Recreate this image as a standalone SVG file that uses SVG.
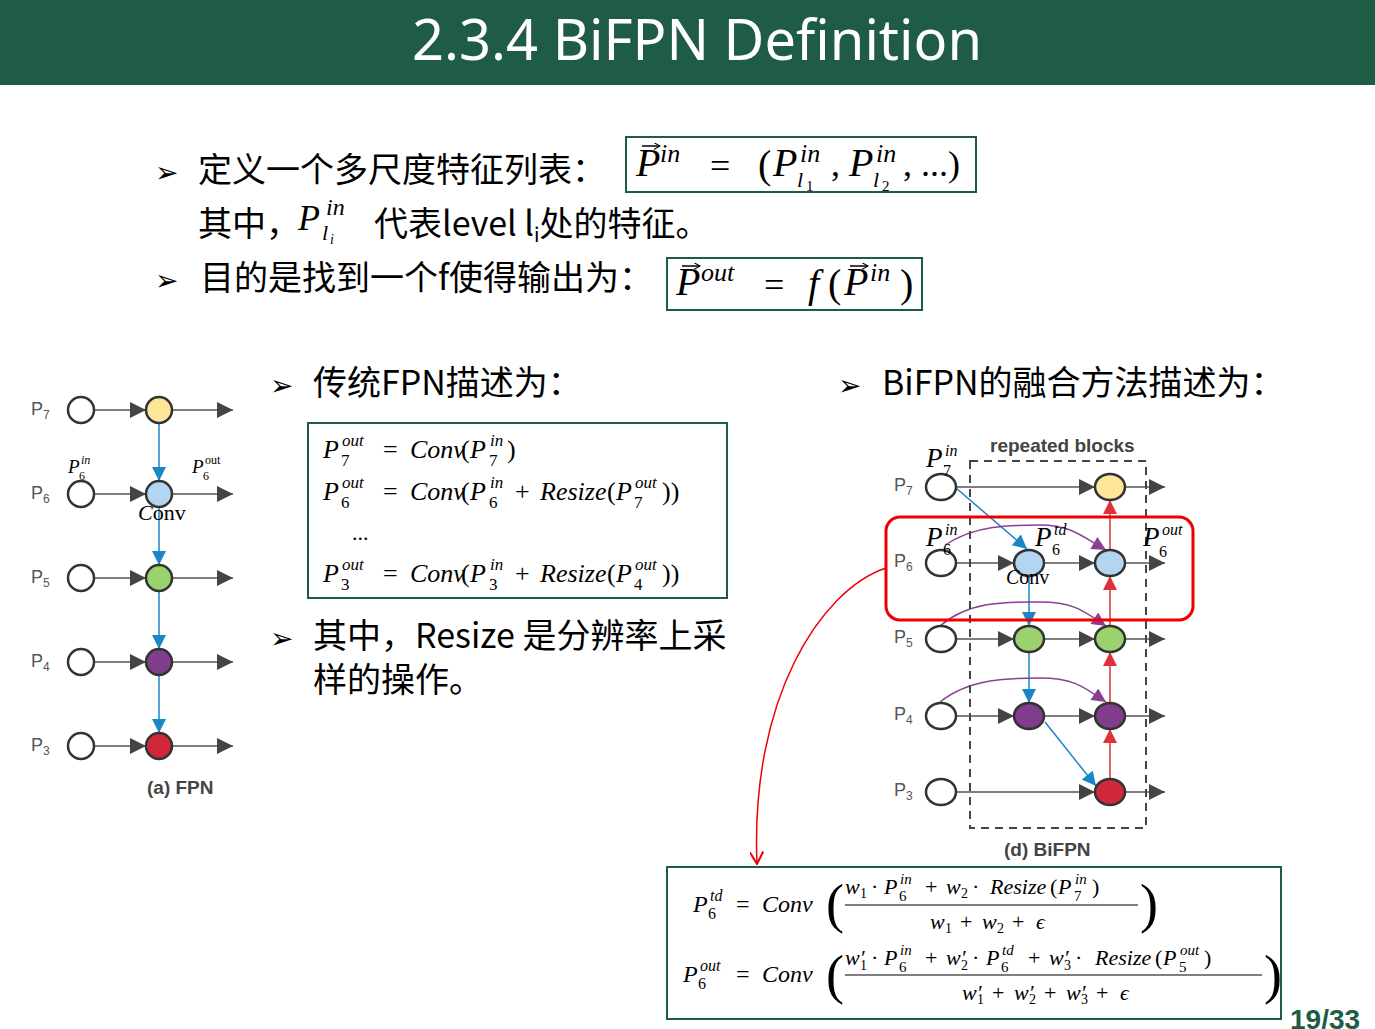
<svg xmlns="http://www.w3.org/2000/svg" width="1375" height="1029" viewBox="0 0 1375 1029">
<style>
.cn{font-family:"Noto Sans CJK SC","Noto Sans",sans-serif;fill:#000}
.m{font-family:"Liberation Serif",serif;font-style:italic;fill:#000}
.r{font-family:"Liberation Serif",serif;font-style:normal;fill:#000}
.lab{font-family:"Liberation Sans",sans-serif;fill:#555;font-size:18px}
.cap{font-family:"Liberation Sans",sans-serif;fill:#444;font-size:19px;font-weight:bold}
.box{fill:none;stroke:#1e5c45;stroke-width:2}
.gl{stroke:#555;stroke-width:1.5;fill:none}
.bl{stroke:#1a86c6;stroke-width:1.5;fill:none}
.rl{stroke:#e0303a;stroke-width:1.5;fill:none}
.pl{stroke:#8a3f93;stroke-width:1.5;fill:none}
.nd{stroke:#333;stroke-width:2.5}
.vec{stroke:#000;stroke-width:1.5;fill:none}
</style>
<defs>
<marker id="agL" viewBox="0 0 10 10" refX="10" refY="5" markerWidth="20" markerHeight="16" orient="auto" markerUnits="userSpaceOnUse"><path d="M0,0L10,5L0,10z" fill="#444"/></marker>
<marker id="ab" viewBox="0 0 10 10" refX="10" refY="5" markerWidth="16" markerHeight="14" orient="auto" markerUnits="userSpaceOnUse"><path d="M0,0L10,5L0,10z" fill="#1a86c6"/></marker>
<marker id="ar" viewBox="0 0 10 10" refX="10" refY="5" markerWidth="16" markerHeight="14" orient="auto" markerUnits="userSpaceOnUse"><path d="M0,0L10,5L0,10z" fill="#e0303a"/></marker>
<marker id="ap" viewBox="0 0 10 10" refX="10" refY="5" markerWidth="16" markerHeight="14" orient="auto" markerUnits="userSpaceOnUse"><path d="M0,0L10,5L0,10z" fill="#8a3f93"/></marker>
<marker id="arr" viewBox="0 0 10 10" refX="9" refY="5" markerWidth="14" markerHeight="14" orient="auto" markerUnits="userSpaceOnUse"><path d="M0,0L9,5L0,10" fill="none" stroke="#e00" stroke-width="1.5"/></marker>
<marker id="vh" viewBox="0 0 10 10" refX="9" refY="5" markerWidth="7" markerHeight="7" orient="auto" markerUnits="userSpaceOnUse"><path d="M0,0L9,5L0,10" fill="none" stroke="#000" stroke-width="1.5"/></marker>
</defs>
<rect x="0" y="0" width="1375" height="85" fill="#1e5c45"/>
<text x="697" y="60" text-anchor="middle" font-family="Noto Sans,sans-serif" font-size="56" fill="#fff">2.3.4 BiFPN Definition</text>

<g id="bullets">
<text x="155" y="182" class="cn" font-size="28">➢</text>
<text x="198" y="182" class="cn" font-size="34">定义一个多尺度特征列表：</text>
<text x="198" y="236" class="cn" font-size="34">其中，</text>
<text x="298" y="230" class="m" font-size="36">P</text><text x="326" y="215" class="m" font-size="24">in</text><text x="322" y="240" class="m" font-size="22">l</text><text x="330" y="244" class="m" font-size="14">i</text>
<text x="374" y="236" class="cn" font-size="34">代表level l<tspan font-size="20" dy="6">i</tspan><tspan dy="-6">处的特征。</tspan></text>
<text x="155" y="290" class="cn" font-size="28">➢</text>
<text x="200" y="290" class="cn" font-size="34">目的是找到一个f使得输出为：</text>
<text x="270" y="395" class="cn" font-size="28">➢</text>
<text x="313" y="395" class="cn" font-size="34">传统FPN描述为：</text>
<text x="270" y="648" class="cn" font-size="28">➢</text>
<text x="313" y="648" class="cn" font-size="34">其中，Resize 是分辨率上采</text>
<text x="313" y="692" class="cn" font-size="34">样的操作。</text>
<text x="838" y="395" class="cn" font-size="28">➢</text>
<text x="882" y="395" class="cn" font-size="34">BiFPN的融合方法描述为：</text>
</g>

<g id="eq1">
<rect x="626" y="137" width="350" height="55" class="box"/>
<text x="636" y="176" class="m" font-size="40">P</text><text x="660" y="162" class="m" font-size="26">in</text>
<line x1="642" y1="146" x2="660" y2="146" class="vec" marker-end="url(#vh)"/>
<text x="710" y="178" class="r" font-size="36">=</text>
<text x="758" y="178" class="r" font-size="40">(</text>
<text x="773" y="176" class="m" font-size="40">P</text><text x="800" y="162" class="m" font-size="26">in</text><text x="797" y="187" class="m" font-size="22">l</text><text x="806" y="191" class="r" font-size="15">1</text>
<text x="831" y="176" class="r" font-size="36">,</text>
<text x="849" y="176" class="m" font-size="40">P</text><text x="876" y="162" class="m" font-size="26">in</text><text x="873" y="187" class="m" font-size="22">l</text><text x="882" y="191" class="r" font-size="15">2</text>
<text x="903" y="176" class="r" font-size="36">, ...)</text>
</g>
<g id="eq2">
<rect x="667" y="258" width="255" height="52" class="box"/>
<text x="676" y="295" class="m" font-size="40">P</text><text x="701" y="281" class="m" font-size="26">out</text>
<line x1="682" y1="266" x2="700" y2="266" class="vec" marker-end="url(#vh)"/>
<text x="764" y="297" class="r" font-size="36">=</text>
<text x="808" y="297" class="m" font-size="40">f</text>
<text x="828" y="297" class="r" font-size="40">(</text>
<text x="844" y="295" class="m" font-size="40">P</text><text x="870" y="281" class="m" font-size="26">in</text>
<line x1="850" y1="266" x2="868" y2="266" class="vec" marker-end="url(#vh)"/>
<text x="900" y="297" class="r" font-size="40">)</text>
</g>
<g id="eq3">
<rect x="308" y="423" width="419" height="175" class="box"/>
<text x="323" y="458" class="m" font-size="26">P</text><text x="342" y="446" class="m" font-size="17">out</text><text x="341" y="466" class="r" font-size="17">7</text>
<text x="383" y="458" class="r" font-size="26">=</text><text x="410" y="458" class="m" font-size="26">Conv</text><text x="461" y="458" class="r" font-size="26">(</text>
<text x="470" y="458" class="m" font-size="26">P</text><text x="490" y="446" class="m" font-size="17">in</text><text x="489" y="466" class="r" font-size="17">7</text><text x="507" y="458" class="r" font-size="26">)</text>

<text x="323" y="500" class="m" font-size="26">P</text><text x="342" y="488" class="m" font-size="17">out</text><text x="341" y="508" class="r" font-size="17">6</text>
<text x="383" y="500" class="r" font-size="26">=</text><text x="410" y="500" class="m" font-size="26">Conv</text><text x="461" y="500" class="r" font-size="26">(</text>
<text x="470" y="500" class="m" font-size="26">P</text><text x="490" y="488" class="m" font-size="17">in</text><text x="489" y="508" class="r" font-size="17">6</text>
<text x="515" y="500" class="r" font-size="26">+</text><text x="540" y="500" class="m" font-size="26">Resize</text><text x="607" y="500" class="r" font-size="26">(</text>
<text x="616" y="500" class="m" font-size="26">P</text><text x="635" y="488" class="m" font-size="17">out</text><text x="634" y="508" class="r" font-size="17">7</text><text x="662" y="500" class="r" font-size="26">))</text>

<text x="352" y="540" class="r" font-size="22">...</text>

<text x="323" y="582" class="m" font-size="26">P</text><text x="342" y="570" class="m" font-size="17">out</text><text x="341" y="590" class="r" font-size="17">3</text>
<text x="383" y="582" class="r" font-size="26">=</text><text x="410" y="582" class="m" font-size="26">Conv</text><text x="461" y="582" class="r" font-size="26">(</text>
<text x="470" y="582" class="m" font-size="26">P</text><text x="490" y="570" class="m" font-size="17">in</text><text x="489" y="590" class="r" font-size="17">3</text>
<text x="515" y="582" class="r" font-size="26">+</text><text x="540" y="582" class="m" font-size="26">Resize</text><text x="607" y="582" class="r" font-size="26">(</text>
<text x="616" y="582" class="m" font-size="26">P</text><text x="635" y="570" class="m" font-size="17">out</text><text x="634" y="590" class="r" font-size="17">4</text><text x="662" y="582" class="r" font-size="26">))</text>
</g>
<g id="eq4">
<rect x="667" y="867" width="614" height="152" class="box"/>
<text x="693" y="912" class="m" font-size="24">P</text><text x="710" y="901" class="m" font-size="16">td</text><text x="708" y="919" class="r" font-size="16">6</text>
<text x="736" y="912" class="r" font-size="24">=</text><text x="762" y="912" class="m" font-size="24">Conv</text>
<text x="826" y="922" class="r" font-size="54">(</text>
<text x="845" y="894" class="m" font-size="22">w</text><text x="860" y="898" class="r" font-size="14">1</text><text x="871" y="894" class="r" font-size="22">·</text>
<text x="884" y="894" class="m" font-size="22">P</text><text x="900" y="884" class="m" font-size="15">in</text><text x="899" y="901" class="r" font-size="15">6</text>
<text x="925" y="894" class="r" font-size="22">+</text><text x="946" y="894" class="m" font-size="22">w</text><text x="961" y="898" class="r" font-size="14">2</text><text x="972" y="894" class="r" font-size="22">·</text>
<text x="990" y="894" class="m" font-size="22">Resize</text><text x="1050" y="894" class="r" font-size="22">(</text>
<text x="1058" y="894" class="m" font-size="22">P</text><text x="1075" y="884" class="m" font-size="15">in</text><text x="1074" y="901" class="r" font-size="15">7</text><text x="1092" y="894" class="r" font-size="22">)</text>
<line x1="845" y1="905" x2="1138" y2="905" stroke="#000" stroke-width="1.2"/>
<text x="930" y="929" class="m" font-size="22">w</text><text x="945" y="933" class="r" font-size="14">1</text><text x="960" y="929" class="r" font-size="22">+</text>
<text x="982" y="929" class="m" font-size="22">w</text><text x="997" y="933" class="r" font-size="14">2</text><text x="1012" y="929" class="r" font-size="22">+</text><text x="1036" y="929" class="m" font-size="22">ϵ</text>
<text x="1140" y="922" class="r" font-size="54">)</text>

<text x="683" y="982" class="m" font-size="24">P</text><text x="700" y="971" class="m" font-size="16">out</text><text x="698" y="989" class="r" font-size="16">6</text>
<text x="736" y="982" class="r" font-size="24">=</text><text x="762" y="982" class="m" font-size="24">Conv</text>
<text x="826" y="993" class="r" font-size="54">(</text>
<text x="845" y="965" class="m" font-size="22">w′</text><text x="860" y="970" class="r" font-size="14">1</text><text x="871" y="965" class="r" font-size="22">·</text>
<text x="884" y="965" class="m" font-size="22">P</text><text x="900" y="955" class="m" font-size="15">in</text><text x="899" y="972" class="r" font-size="15">6</text>
<text x="925" y="965" class="r" font-size="22">+</text><text x="946" y="965" class="m" font-size="22">w′</text><text x="961" y="970" class="r" font-size="14">2</text><text x="972" y="965" class="r" font-size="22">·</text>
<text x="986" y="965" class="m" font-size="22">P</text><text x="1002" y="955" class="m" font-size="15">td</text><text x="1001" y="972" class="r" font-size="15">6</text>
<text x="1028" y="965" class="r" font-size="22">+</text><text x="1049" y="965" class="m" font-size="22">w′</text><text x="1064" y="970" class="r" font-size="14">3</text><text x="1075" y="965" class="r" font-size="22">·</text>
<text x="1095" y="965" class="m" font-size="22">Resize</text><text x="1155" y="965" class="r" font-size="22">(</text>
<text x="1163" y="965" class="m" font-size="22">P</text><text x="1180" y="955" class="m" font-size="15">out</text><text x="1179" y="972" class="r" font-size="15">5</text><text x="1204" y="965" class="r" font-size="22">)</text>
<line x1="845" y1="975" x2="1262" y2="975" stroke="#000" stroke-width="1.2"/>
<text x="962" y="1000" class="m" font-size="22">w′</text><text x="977" y="1004" class="r" font-size="14">1</text><text x="992" y="1000" class="r" font-size="22">+</text>
<text x="1014" y="1000" class="m" font-size="22">w′</text><text x="1029" y="1004" class="r" font-size="14">2</text><text x="1044" y="1000" class="r" font-size="22">+</text>
<text x="1066" y="1000" class="m" font-size="22">w′</text><text x="1081" y="1004" class="r" font-size="14">3</text><text x="1096" y="1000" class="r" font-size="22">+</text><text x="1120" y="1000" class="m" font-size="22">ϵ</text>
<text x="1264" y="993" class="r" font-size="54">)</text>
</g>

<g id="connectors">
<g class="gl">
<line x1="94" y1="410" x2="146" y2="410" marker-end="url(#agL)"/><line x1="172" y1="410" x2="233" y2="410" marker-end="url(#agL)"/>
<line x1="94" y1="494" x2="146" y2="494" marker-end="url(#agL)"/><line x1="172" y1="494" x2="233" y2="494" marker-end="url(#agL)"/>
<line x1="94" y1="578" x2="146" y2="578" marker-end="url(#agL)"/><line x1="172" y1="578" x2="233" y2="578" marker-end="url(#agL)"/>
<line x1="94" y1="662" x2="146" y2="662" marker-end="url(#agL)"/><line x1="172" y1="662" x2="233" y2="662" marker-end="url(#agL)"/>
<line x1="94" y1="746" x2="146" y2="746" marker-end="url(#agL)"/><line x1="172" y1="746" x2="233" y2="746" marker-end="url(#agL)"/>
</g>
<g class="bl">
<line x1="159" y1="423" x2="159" y2="481" marker-end="url(#ab)"/>
<line x1="159" y1="507" x2="159" y2="565" marker-end="url(#ab)"/>
<line x1="159" y1="591" x2="159" y2="649" marker-end="url(#ab)"/>
<line x1="159" y1="675" x2="159" y2="733" marker-end="url(#ab)"/>
</g>
<g class="gl">
<line x1="956" y1="487" x2="1095" y2="487" marker-end="url(#agL)"/><line x1="1125" y1="487" x2="1165" y2="487" marker-end="url(#agL)"/>
<line x1="956" y1="563" x2="1014" y2="563" marker-end="url(#agL)"/><line x1="1044" y1="563" x2="1095" y2="563" marker-end="url(#agL)"/><line x1="1125" y1="563" x2="1165" y2="563" marker-end="url(#agL)"/>
<line x1="956" y1="639" x2="1014" y2="639" marker-end="url(#agL)"/><line x1="1044" y1="639" x2="1095" y2="639" marker-end="url(#agL)"/><line x1="1125" y1="639" x2="1165" y2="639" marker-end="url(#agL)"/>
<line x1="956" y1="716" x2="1014" y2="716" marker-end="url(#agL)"/><line x1="1044" y1="716" x2="1095" y2="716" marker-end="url(#agL)"/><line x1="1125" y1="716" x2="1165" y2="716" marker-end="url(#agL)"/>
<line x1="956" y1="792" x2="1095" y2="792" marker-end="url(#agL)"/><line x1="1125" y1="792" x2="1165" y2="792" marker-end="url(#agL)"/>
</g>
<g class="bl">
<line x1="956" y1="488" x2="1027" y2="549" marker-end="url(#ab)"/>
<line x1="1029" y1="576" x2="1029" y2="626" marker-end="url(#ab)"/>
<line x1="1029" y1="652" x2="1029" y2="703" marker-end="url(#ab)"/>
<line x1="1045" y1="722" x2="1096" y2="786" marker-end="url(#ab)"/>
</g>
<g class="rl">
<line x1="1110" y1="779" x2="1110" y2="729" marker-end="url(#ar)"/>
<line x1="1110" y1="703" x2="1110" y2="652" marker-end="url(#ar)"/>
<line x1="1110" y1="626" x2="1110" y2="576" marker-end="url(#ar)"/>
<line x1="1110" y1="550" x2="1110" y2="500" marker-end="url(#ar)"/>
</g>
<g class="pl">
<path d="M945,545 C975,525 1010,525 1040,525 C1070,525 1080,535 1106,550" marker-end="url(#ap)"/>
<path d="M940,626 C970,600 1010,602 1040,602 C1075,602 1085,612 1106,626" marker-end="url(#ap)"/>
<path d="M940,702 C970,678 1010,678 1040,678 C1075,678 1085,688 1106,702" marker-end="url(#ap)"/>
</g>
<path d="M886,568 C820,590 750,700 757,864" fill="none" stroke="#e00" stroke-width="1.5" marker-end="url(#arr)"/>
</g>

<g id="fpn">
<text x="31" y="415" class="lab">P<tspan font-size="12" dy="4">7</tspan></text>
<text x="31" y="499" class="lab">P<tspan font-size="12" dy="4">6</tspan></text>
<text x="31" y="583" class="lab">P<tspan font-size="12" dy="4">5</tspan></text>
<text x="31" y="667" class="lab">P<tspan font-size="12" dy="4">4</tspan></text>
<text x="31" y="751" class="lab">P<tspan font-size="12" dy="4">3</tspan></text>
<g class="nd" fill="#fff"><circle cx="81" cy="410" r="13"/><circle cx="81" cy="494" r="13"/><circle cx="81" cy="578" r="13"/><circle cx="81" cy="662" r="13"/><circle cx="81" cy="746" r="13"/></g>
<circle cx="159" cy="410" r="13" fill="#fde59a" class="nd"/>
<circle cx="159" cy="494" r="13" fill="#b3d5ef" class="nd"/>
<circle cx="159" cy="578" r="13" fill="#9bd26e" class="nd"/>
<circle cx="159" cy="662" r="13" fill="#7f3d8b" class="nd"/>
<circle cx="159" cy="746" r="13" fill="#d0283a" class="nd"/>
<text x="68" y="473" class="m" font-size="19">P</text><text x="81" y="464" class="m" font-size="12">in</text><text x="79" y="480" class="r" font-size="12">6</text>
<text x="192" y="473" class="m" font-size="19">P</text><text x="205" y="464" class="r" font-size="12">out</text><text x="203" y="480" class="r" font-size="12">6</text>
<text x="138" y="520" class="m" font-size="22">C<tspan class="r">onv</tspan></text>
<text x="147" y="794" class="cap">(a) FPN</text>
</g>

<g id="bifpn">
<rect x="970" y="461" width="176" height="367" fill="none" stroke="#444" stroke-width="2" stroke-dasharray="8,6"/>
<rect x="886" y="517" width="307" height="103" rx="14" fill="none" stroke="#e00" stroke-width="3"/>
<text x="990" y="452" class="cap" font-size="18">repeated blocks</text>
<text x="894" y="491" class="lab" font-size="17">P<tspan font-size="12" dy="4">7</tspan></text>
<text x="894" y="567" class="lab" font-size="17">P<tspan font-size="12" dy="4">6</tspan></text>
<text x="894" y="643" class="lab" font-size="17">P<tspan font-size="12" dy="4">5</tspan></text>
<text x="894" y="720" class="lab" font-size="17">P<tspan font-size="12" dy="4">4</tspan></text>
<text x="894" y="796" class="lab" font-size="17">P<tspan font-size="12" dy="4">3</tspan></text>
<g class="nd" fill="#fff"><ellipse cx="941" cy="487" rx="15" ry="13"/><ellipse cx="941" cy="563" rx="15" ry="13"/><ellipse cx="941" cy="639" rx="15" ry="13"/><ellipse cx="941" cy="716" rx="15" ry="13"/><ellipse cx="941" cy="792" rx="15" ry="13"/></g>
<ellipse cx="1110" cy="487" rx="15" ry="13" fill="#fde59a" class="nd"/>
<ellipse cx="1029" cy="563" rx="15" ry="13" fill="#b3d5ef" class="nd"/>
<ellipse cx="1110" cy="563" rx="15" ry="13" fill="#b3d5ef" class="nd"/>
<ellipse cx="1029" cy="639" rx="15" ry="13" fill="#9bd26e" class="nd"/>
<ellipse cx="1110" cy="639" rx="15" ry="13" fill="#9bd26e" class="nd"/>
<ellipse cx="1029" cy="716" rx="15" ry="13" fill="#7f3d8b" class="nd"/>
<ellipse cx="1110" cy="716" rx="15" ry="13" fill="#7f3d8b" class="nd"/>
<ellipse cx="1110" cy="792" rx="15" ry="13" fill="#d0283a" class="nd"/>
<text x="926" y="467" class="m" font-size="27">P</text><text x="945" y="456" class="m" font-size="16">in</text><text x="943" y="476" class="r" font-size="16">7</text>
<text x="926" y="546" class="m" font-size="27">P</text><text x="945" y="535" class="m" font-size="16">in</text><text x="943" y="555" class="r" font-size="16">6</text>
<text x="1035" y="546" class="m" font-size="27">P</text><text x="1054" y="535" class="m" font-size="16">td</text><text x="1052" y="555" class="r" font-size="16">6</text>
<text x="1143" y="546" class="m" font-size="27">P</text><text x="1162" y="535" class="m" font-size="16">out</text><text x="1159" y="557" class="r" font-size="16">6</text>
<text x="1006" y="584" class="m" font-size="20">C<tspan class="r">onv</tspan></text>
<text x="1004" y="856" class="cap" font-size="18">(d) BiFPN</text>
</g>
<text x="1290" y="1029" font-family="Liberation Sans,sans-serif" font-weight="bold" font-size="28" fill="#1e5c45">19/33</text>
</svg>
